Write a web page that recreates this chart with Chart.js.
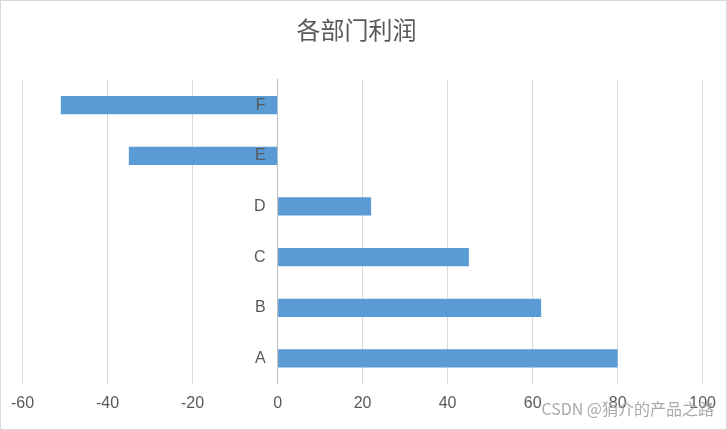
<!DOCTYPE html>
<html><head><meta charset="utf-8">
<script src="https://cdn.jsdelivr.net/npm/chart.js@4/dist/chart.umd.min.js"></script>
<style>
html,body{margin:0;padding:0;background:#fff;}
#wrap{position:relative;width:725px;height:428px;border:1px solid #d9d9d9;}
#wm{position:absolute;right:12px;bottom:9px;font:16px "Noto Sans CJK SC",sans-serif;color:#aaa;}
</style></head><body>
<div id="wrap"><canvas id="c" width="725" height="428"></canvas><div id="wm">CSDN @狷介的产品之路</div></div>
<script>
const categories = ["A","B","C","D","E","F"];
const profits = [80, 62, 45, 22, -35, -51];
const xTicks = [-60,-40,-20,0,20,40,60,80,100];
const labelPlugin = {
  id: 'catLabels',
  afterDatasetsDraw(chart) {
    const ctx = chart.ctx, x = chart.scales.x.getPixelForValue(0) - 12, y = chart.scales.y;
    ctx.save();
    ctx.font = '16px "Liberation Sans", Arial';
    ctx.fillStyle = '#595959'; ctx.textAlign = 'right'; ctx.textBaseline = 'middle';
    categories.forEach((c, i) => ctx.fillText(c, x, y.getPixelForValue(i)));
    ctx.restore();
  }
};
new Chart(document.getElementById('c'), {
  type: 'bar',
  data: { labels: categories, datasets: [{ data: profits, backgroundColor: '#5b9bd5', barPercentage: 0.36, categoryPercentage: 1 }] },
  options: {
    indexAxis: 'y', responsive: false, animation: false,
    layout: { padding: { left: 8, right: 22, top: 0, bottom: 6 } },
    plugins: {
      legend: { display: false }, tooltip: { enabled: false },
      title: { display: true, text: '各部门利润', color: '#595959', font: { size: 24, family: '"Noto Sans CJK SC", sans-serif', weight: 'normal' }, padding: { top: 14, bottom: 36 } }
    },
    scales: {
      x: { min: -60, max: 100,
        afterBuildTicks: a => { a.ticks = xTicks.map(v => ({ value: v })); },
        grid: { color: '#d9d9d9', drawTicks: false }, border: { display: false },
        ticks: { color: '#595959', font: { size: 16, family: 'Liberation Sans, Arial' }, padding: 10 } },
      y: { reverse: true, position: { x: 0 },
        grid: { display: false }, border: { color: '#bfbfbf' },
        ticks: { display: false } }
    }
  },
  plugins: [labelPlugin]
});
</script></body></html>
